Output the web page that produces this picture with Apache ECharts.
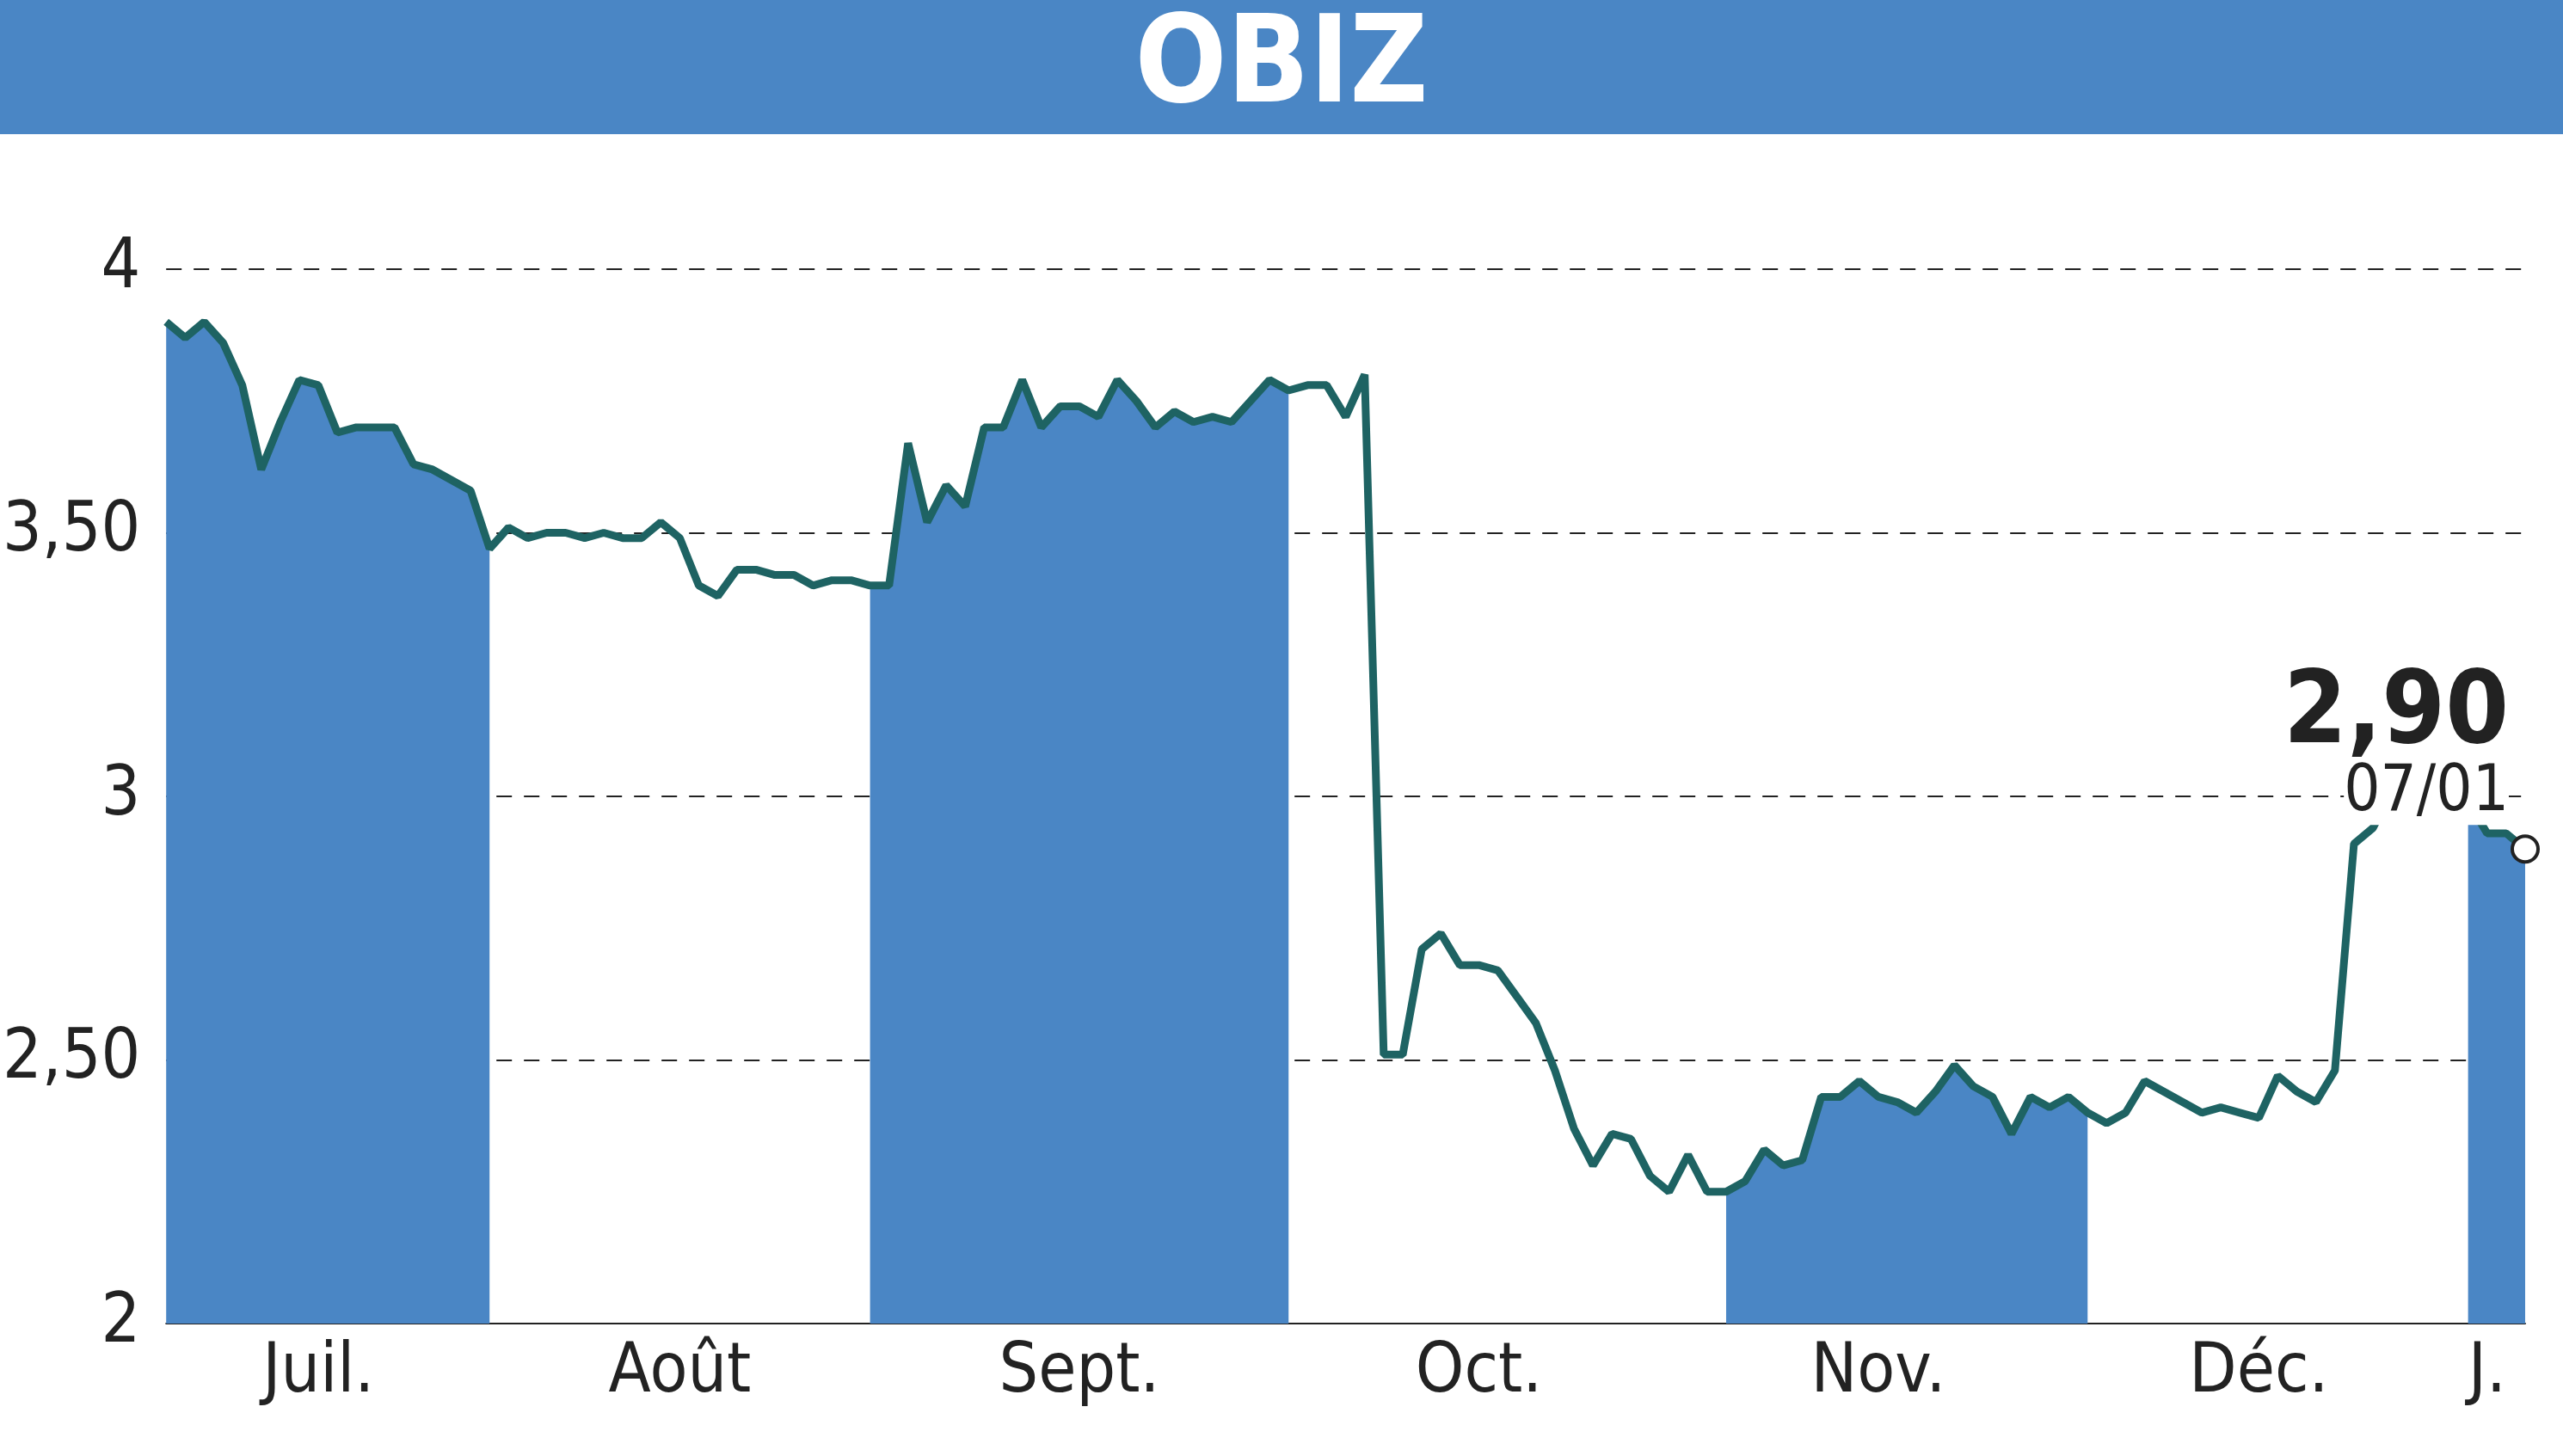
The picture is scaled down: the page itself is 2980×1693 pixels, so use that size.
<!DOCTYPE html>
<html lang="fr">
<head>
  <meta charset="UTF-8">
  <title>OBIZ</title>
  <script src="https://cdn.jsdelivr.net/npm/echarts@6/dist/echarts.min.js"></script>
  <style>
    html, body { margin: 0; padding: 0; background: #fff; }
    #main { width: 2980px; height: 1693px; }
  </style>
</head>
<body>
  <div id="main"></div>
<script>
  // cours journaliers
  let prices = [
    3.90, 3.87, 3.90, 3.86, 3.78, 3.62, 3.71, 3.79, 3.78, 3.69,
    3.70, 3.70, 3.70, 3.63, 3.62, 3.60, 3.58, 3.47, 3.51, 3.49,
    3.50, 3.50, 3.49, 3.50, 3.49, 3.49, 3.52, 3.49, 3.40, 3.38,
    3.43, 3.43, 3.42, 3.42, 3.40, 3.41, 3.41, 3.40, 3.40, 3.67,
    3.52, 3.59, 3.55, 3.70, 3.70, 3.79, 3.70, 3.74, 3.74, 3.72,
    3.79, 3.75, 3.70, 3.73, 3.71, 3.72, 3.71, 3.75, 3.79, 3.77,
    3.78, 3.78, 3.72, 3.80, 2.51, 2.51, 2.71, 2.74, 2.68, 2.68,
    2.67, 2.62, 2.57, 2.48, 2.37, 2.30, 2.36, 2.35, 2.28, 2.25,
    2.32, 2.25, 2.25, 2.27, 2.33, 2.30, 2.31, 2.43, 2.43, 2.46,
    2.43, 2.42, 2.40, 2.44, 2.49, 2.45, 2.43, 2.36, 2.43, 2.41,
    2.43, 2.40, 2.38, 2.40, 2.46, 2.44, 2.42, 2.40, 2.41, 2.40,
    2.39, 2.47, 2.44, 2.42, 2.48, 2.91, 2.94, 3.01, 3.03, 3.02,
    3.00, 2.99, 2.93, 2.93, 2.90
  ]
  // mois : position du libellé et plage colorée (index des séances)
  let monthNames = ['Juil.', 'Août', 'Sept.', 'Oct.', 'Nov.', 'Déc.', 'J.']
  let monthLabelIdx = [8, 27, 48, 69, 90, 110, 122]
  let shadedMonths = [[0, 17], [37, 59], [82, 101], [121, 124]]
  let yTicks = ['2', '2,50', '3', '3,50', '4']
  let lastLabel = '2,90'
  let lastDate = '07/01'

  let font = '"Liberation Sans Narrow", "DejaVu Sans Condensed", sans-serif'
  let blue = '#4a86c5'
  let lineColor = '#1e6363'

  let categories = prices.map((v, i) => String(i))
  let inBand = i => shadedMonths.some(b => i >= b[0] && i <= b[1])
  let areaData = prices.map((v, i) => inBand(i) ? v : null)
  let lineData = prices.map((v, i) => i === prices.length - 1 ? {
    value: v,
    symbol: 'circle',
    symbolSize: 30,
    itemStyle: { color: '#fff', borderColor: '#222', borderWidth: 4 },
    label: {
      show: true,
      position: 'left',
      distance: 0,
      offset: [-2, -120],
      align: 'right',
      formatter: '{a|' + lastLabel + '}\n{b|' + lastDate + '}',
      rich: {
        a: { fontFamily: font, fontWeight: 'bold', fontSize: 118, color: '#222', lineHeight: 110, align: 'right', backgroundColor: '#fff' },
        b: { fontFamily: font, fontSize: 74, color: '#222', lineHeight: 70, align: 'right', backgroundColor: '#fff' }
      }
    }
  } : v)

  let myChart = echarts.init(document.getElementById('main'))
  let option = {
    animation: false,
    graphic: [{
      type: 'rect',
      shape: { x: 0, y: 0, width: 2980, height: 156 },
      style: { fill: blue }
    }, {
      type: 'text',
      x: 1490, y: 82,
      style: { text: 'OBIZ', fill: '#fff', font: 'bold 140px ' + font, textAlign: 'center', textVerticalAlign: 'middle' }
    }],
    grid: { left: 190, right: 44, top: 313, bottom: 154 },
    xAxis: {
      type: 'category',
      data: categories,
      boundaryGap: false,
      axisLine: { lineStyle: { color: '#222', width: 2 } },
      axisTick: { show: false },
      axisLabel: {
        interval: (i) => monthLabelIdx.includes(i),
        formatter: (v) => monthNames[monthLabelIdx.indexOf(Number(v))] || '',
        fontFamily: font, fontSize: 80, color: '#222', margin: 18
      },
      splitLine: { show: false }
    },
    yAxis: {
      type: 'value',
      min: 2, max: 4, interval: 0.5,
      axisLine: { show: false },
      axisTick: { show: false },
      axisLabel: {
        formatter: v => yTicks[Math.round((v - 2) / 0.5)],
        fontFamily: font, fontSize: 80, color: '#222', margin: 30
      },
      splitLine: { lineStyle: { color: '#222', type: [18, 14], width: 2 } }
    },
    series: [{
      type: 'line',
      data: areaData,
      symbol: 'none',
      connectNulls: false,
      lineStyle: { width: 0 },
      areaStyle: { color: blue, opacity: 1, origin: 'start' },
      z: 1
    }, {
      type: 'line',
      data: lineData,
      symbol: 'none',
      lineStyle: { color: lineColor, width: 9 },
      z: 3
    }]
  }
  myChart.setOption(option)
</script>
</body>
</html>
